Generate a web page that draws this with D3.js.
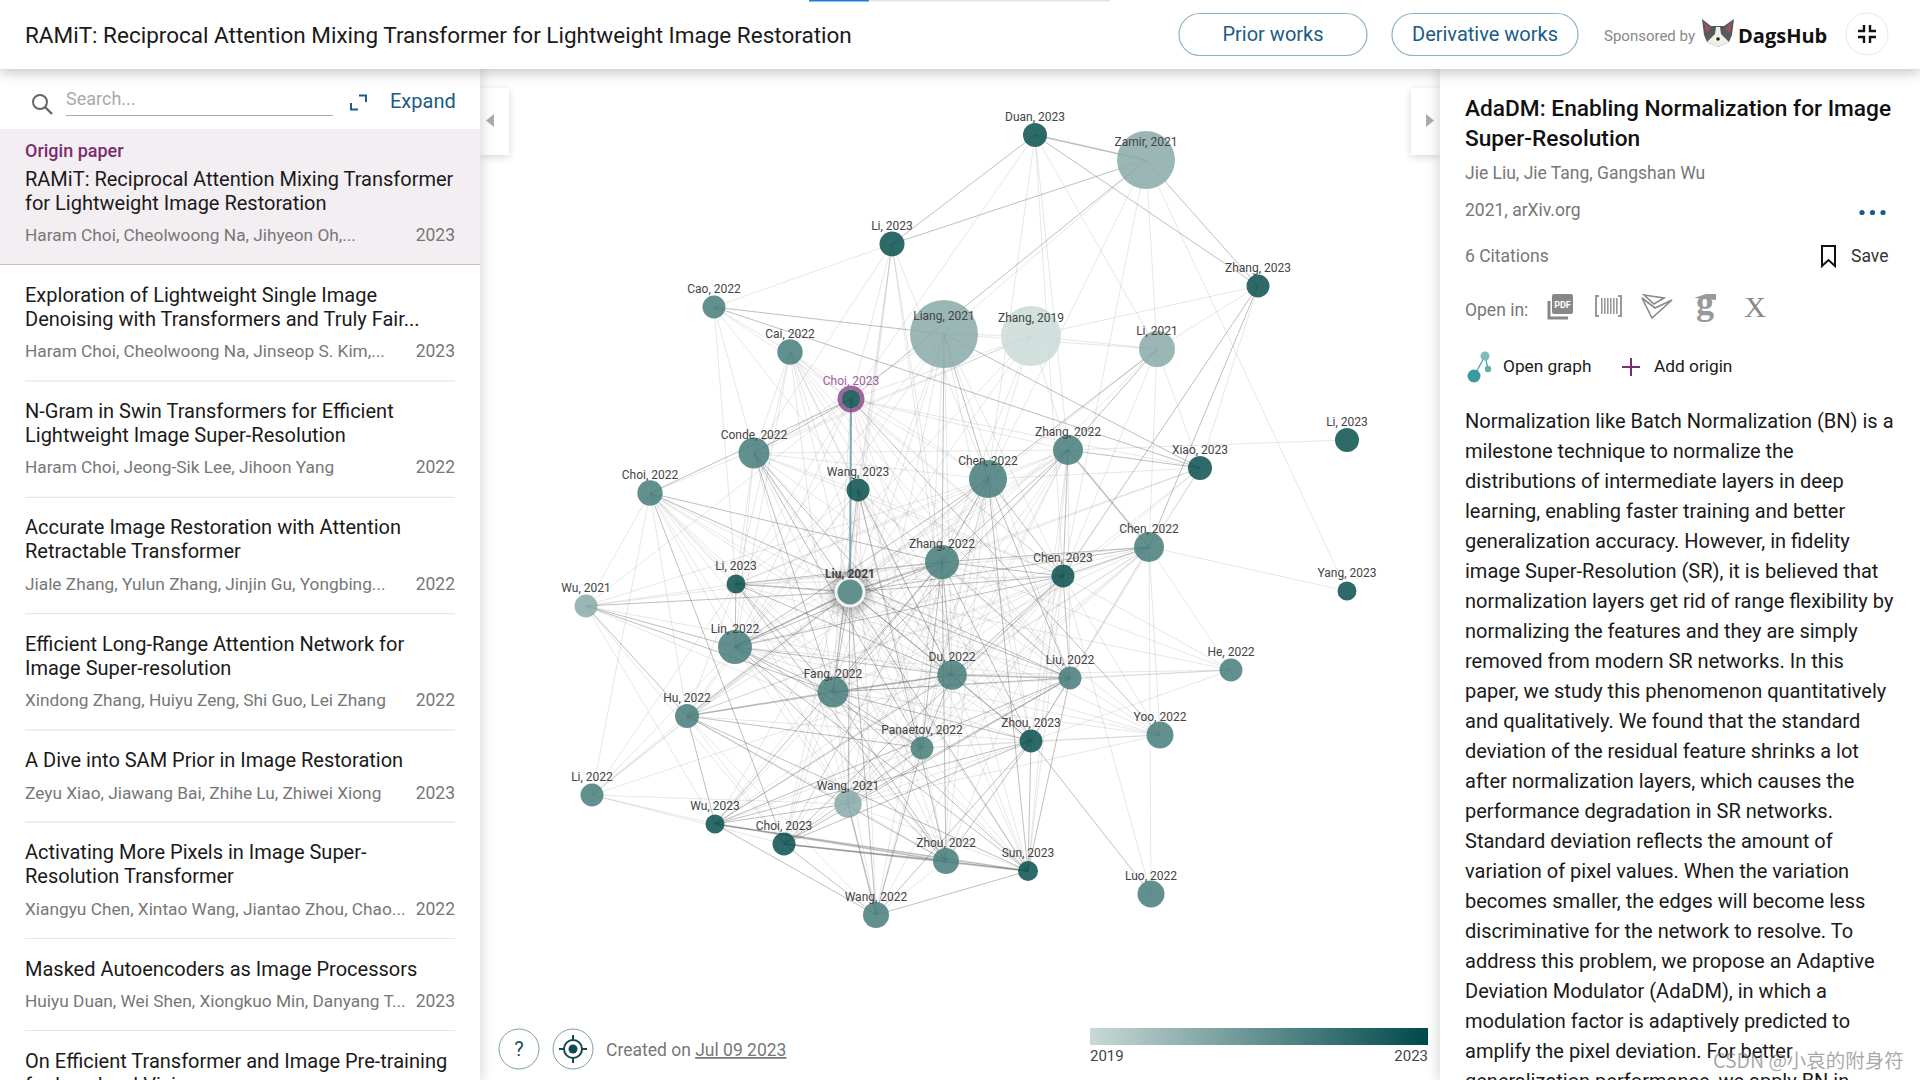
<!DOCTYPE html>
<html lang="en">
<head>
<meta charset="UTF-8">
<title>RAMiT graph</title>
<script src="https://cdn.jsdelivr.net/npm/d3@7"></script>
<style>
    html,body{margin:0;padding:0;width:1920px;height:1080px;overflow:hidden;background:#fff;font-family:Roboto,sans-serif;}
    svg{position:absolute;left:0;top:0;}
    .panel{position:absolute;background:#fff;}
    #header{left:0;top:0;width:1920px;height:69px;box-shadow:0 2px 14px rgba(0,0,0,.28);z-index:3;}
    #left{left:0;top:69px;width:480px;height:1011px;box-shadow:2px 0 12px rgba(0,0,0,.16);z-index:2;}
    #right{left:1440px;top:69px;width:480px;height:1011px;box-shadow:-2px 0 12px rgba(0,0,0,.16);z-index:2;}
    .tab{position:absolute;top:88px;width:29px;height:67px;background:#fff;box-shadow:0 2px 8px rgba(0,0,0,.16);z-index:1;}
    #ui{z-index:4;}
    #graph{z-index:0;}
</style>
</head>
<body>
<svg id="graph" width="1920" height="1080"></svg>
<div class="tab" style="left:480px"></div>
<div class="tab" style="left:1411px"></div>
<div class="panel" id="left"></div>
<div class="panel" id="right"></div>
<div class="panel" id="header"></div>
<svg id="ui" width="1920" height="1080"></svg>
<script>
// graph nodes, layout coordinates are graph units
var nodeNames = ["Duan, 2023","Zamir, 2021","Li, 2023","Zhang, 2023","Cao, 2022","Liang, 2021","Zhang, 2019","Cai, 2022","Li, 2021","Choi, 2023",
    "Li, 2023","Zhang, 2022","Conde, 2022","Xiao, 2023","Chen, 2022","Wang, 2023","Choi, 2022","Chen, 2022","Zhang, 2022","Chen, 2023",
    "Li, 2023","Yang, 2023","Liu, 2021","Wu, 2021","Lin, 2022","He, 2022","Du, 2022","Liu, 2022","Fang, 2022","Hu, 2022",
    "Yoo, 2022","Zhou, 2023","Panaetov, 2022","Li, 2022","Wang, 2021","Wu, 2023","Choi, 2023","Zhou, 2022","Sun, 2023","Luo, 2022","Wang, 2022"];
var nodeYears = [2023,2021,2023,2023,2022,2021,2019,2022,2021,2023,
    2023,2022,2022,2023,2022,2023,2022,2022,2022,2023,
    2023,2023,2022,2021,2022,2022,2022,2022,2022,2022,
    2022,2023,2022,2022,2021,2023,2023,2022,2023,2022,2022];
var nodeX = [535,646,392,758,214,444,531,290,657,351,847,568,254,700,488,358,150,649,442,563,236,847,350,86,235,731,452,570,333,187,660,531,422,92,348,215,284,446,528,651,376];
var nodeY = [35,60,144,186,207,234,236,252,249,299,340,350,353,368,379,390,393,447,462,476,484,491,492,506,547,570,575,578,592,616,635,641,648,695,704,724,744,761,771,794,815];
var nodeCites = [144,841,156,132,132,1156,900,161,324,90,144,225,240,144,361,132,161,225,289,132,90,90,196,132,289,132,216,132,240,144,182,132,132,132,188,90,132,169,100,182,169];

// citation links between nodes (index pairs), by similarity strength
var linksStrong = [[0,1],[11,17],[34,40],[35,38],[29,28],[36,38],[24,22],[28,26],[26,27],[18,22],[20,22],[35,37],[36,37]];
var linksMid = [[0,2],[0,3],[1,2],[1,3],[1,9],[3,17],[3,19],[4,5],[4,13],[5,13],[5,18],[5,14],[8,14],[8,11],[9,12],[9,16],[9,30],[16,36],[12,28],[12,26],[12,22],[12,32],
    [16,18],[16,27],[15,26],[15,28],[15,37],[14,18],[14,19],[14,24],[14,27],[14,38],[11,18],[11,19],[11,28],[11,13],[17,19],[17,18],[17,22],[18,19],[18,20],[18,24],[18,26],[18,27],[18,28],[18,31],[18,32],[18,37],[18,35],
    [19,22],[19,24],[19,26],[19,27],[19,36],[20,24],[20,26],[20,28],[20,37],[22,26],[22,27],[22,28],[22,29],[22,34],[22,31],[22,38],[22,40],
    [24,26],[24,28],[24,32],[24,37],[24,38],[26,31],[26,32],[26,35],[27,28],[27,31],[27,38],[27,36],[27,34],[27,35],[28,32],[28,37],[28,38],[28,31],[29,32],[29,35],[29,38],[29,37],
    [31,35],[31,36],[31,37],[31,38],[31,40],[32,36],[32,40],[34,35],[35,40],[36,40],[38,40],[31,39],[37,38],[23,24],[23,22],[23,29],[23,28]];
var linksFaint = [[2,4],[2,9],[2,12],[2,14],[2,18],[2,22],[2,26],[2,28],[2,15],[0,9],[0,11],[0,14],[0,19],[0,8],[1,8],[1,5],[1,19],[1,14],[3,8],[3,6],[3,13],[5,6],[5,8],[5,12],[5,24],[6,8],[6,9],[6,12],[6,14],[6,16],[6,18],[6,22],[6,24],[6,11],
    [4,9],[4,12],[4,15],[4,7],[7,9],[7,12],[7,14],[7,15],[7,18],[7,20],[7,22],[7,24],[7,26],[7,28],[7,32],[8,13],[8,17],[9,14],[9,11],[9,18],[9,26],[9,28],[9,20],[9,13],
    [10,11],[21,17],[21,1],[25,17],[25,18],[25,19],[25,22],[25,27],[30,17],[30,27],[30,19],[30,31],[30,28],[30,26],[33,24],[33,16],[33,20],[33,22],[33,26],[33,29],[33,34],[33,35],[33,14],[39,17],[39,19],
    [23,16],[23,20],[23,18],[23,14],[23,9],[23,35],[23,36],[23,32],[23,26],[16,20],[16,22],[16,24],[16,28],[16,32],[4,20],[12,14],[12,11],[12,19],[12,15],[12,20],[12,24],[13,14],[13,17],[13,18],[13,22],
    [15,18],[15,31],[15,32],[14,22],[14,26],[14,28],[14,32],[14,20],[14,11],[11,22],[11,24],[11,26],[11,35],[17,26],[17,27],[17,31],[18,29],[18,34],[18,36],[18,38],[18,40],[19,28],[19,35],[19,38],
    [20,29],[20,32],[20,34],[20,19],[20,27],[22,24],[22,32],[22,36],[22,37],[22,35],[24,27],[24,29],[24,34],[24,31],[26,28],[26,34],[26,37],[26,38],[26,29],[27,32],[28,34],[28,36],[28,40],[29,31],[29,34],[29,36],[29,40],
    [31,32],[31,34],[32,34],[32,37],[32,38],[32,35],[34,36],[34,37],[34,38],[37,40],[33,36],
    [12,34],[12,37],[12,38],[12,27],[12,31],[16,26],[16,29],[16,34],[16,37],[16,38],[16,31],[5,19],[5,20],[5,22],[5,26],[5,27],[5,28],[5,32],[5,31],[5,34],[7,19],[7,27],[7,31],
    [11,27],[11,31],[11,32],[11,34],[11,36],[11,38],[11,29],[11,20],[14,29],[14,31],[14,34],[14,35],[14,36],[14,37],[14,40],[17,24],[17,28],[17,32],[17,34],[17,35],[17,36],[17,29],[17,20],
    [13,19],[13,26],[13,27],[30,22],[30,32],[30,34],[30,24],[30,18],[15,19],[15,20],[15,24],[15,27],[15,29],[15,34],[15,36],[15,38],[15,40],[9,19],[9,24],[9,27],[9,32],
    [25,26],[25,28],[25,31],[19,29],[19,31],[19,32],[19,34],[19,37],[19,40],[8,18],[8,19],[8,22]];

var originIndex = 9, selectedIndex = 22;

// legend
var legendYears = [2019,2023];
var legendStops = ["#c9d9d7","#00494a"];

// left list
var listTitles = [
    ["Exploration of Lightweight Single Image","Denoising with Transformers and Truly Fair..."],
    ["N-Gram in Swin Transformers for Efficient","Lightweight Image Super-Resolution"],
    ["Accurate Image Restoration with Attention","Retractable Transformer"],
    ["Efficient Long-Range Attention Network for","Image Super-resolution"],
    ["A Dive into SAM Prior in Image Restoration"],
    ["Activating More Pixels in Image Super-","Resolution Transformer"],
    ["Masked Autoencoders as Image Processors"],
    ["On Efficient Transformer and Image Pre-training","for Low-level Vision"]];
var listAuthors = ["Haram Choi, Cheolwoong Na, Jinseop S. Kim,...","Haram Choi, Jeong-Sik Lee, Jihoon Yang","Jiale Zhang, Yulun Zhang, Jinjin Gu, Yongbing...",
    "Xindong Zhang, Huiyu Zeng, Shi Guo, Lei Zhang","Zeyu Xiao, Jiawang Bai, Zhihe Lu, Zhiwei Xiong","Xiangyu Chen, Xintao Wang, Jiantao Zhou, Chao...","Huiyu Duan, Wei Shen, Xiongkuo Min, Danyang T...",""];
var listYears = [2023,2022,2022,2022,2023,2022,2023,2023];

// right panel abstract
var abstractLines = ["Normalization like Batch Normalization (BN) is a","milestone technique to normalize the","distributions of intermediate layers in deep",
    "learning, enabling faster training and better","generalization accuracy. However, in fidelity","image Super-Resolution (SR), it is believed that",
    "normalization layers get rid of range flexibility by","normalizing the features and they are simply","removed from modern SR networks. In this",
    "paper, we study this phenomenon quantitatively","and qualitatively. We found that the standard","deviation of the residual feature shrinks a lot",
    "after normalization layers, which causes the","performance degradation in SR networks.","Standard deviation reflects the amount of",
    "variation of pixel values. When the variation","becomes smaller, the edges will become less","discriminative for the network to resolve. To",
    "address this problem, we propose an Adaptive","Deviation Modulator (AdaDM), in which a","modulation factor is adaptively predicted to",
    "amplify the pixel deviation. For better","generalization performance, we apply BN in"];

// ---- graph ----
var x = d3.scaleLinear().domain([0,900]).range([500,1400]);
var y = d3.scaleLinear().domain([0,900]).range([100,1000]);
var r = d3.scaleSqrt().domain([0,1156]).range([0,34]);
var yearColor = d3.scaleLinear().domain([2019,2021,2022,2023]).range(["#cadbd8","#88aaa9","#467c7a","#09504d"]);

var graph = d3.select("#graph");
var defs = graph.append("defs");
defs.append("filter").attr("id","halo").attr("x","-100%").attr("y","-100%").attr("width","300%").attr("height","300%")
    .append("feGaussianBlur").attr("stdDeviation",6);

function drawLinks(list, color, width, opacity){
    graph.append("g").selectAll("line").data(list).enter().append("line")
        .attr("x1",function(d){return x(nodeX[d[0]]);})
        .attr("y1",function(d){return y(nodeY[d[0]]);})
        .attr("x2",function(d){return x(nodeX[d[1]]);})
        .attr("y2",function(d){return y(nodeY[d[1]]);})
        .attr("stroke",color).attr("stroke-width",width).attr("stroke-opacity",opacity);
}
drawLinks(linksFaint,"#888",1,0.2);
drawLinks(linksMid,"#555",0.9,0.42);
drawLinks(linksStrong,"#555",1.5,0.38);
drawLinks([[originIndex,selectedIndex]],"#7fa6bb",2,1);

var nodes = d3.range(nodeNames.length);
graph.append("circle").attr("cx",x(nodeX[selectedIndex])).attr("cy",y(nodeY[selectedIndex])).attr("r",r(nodeCites[selectedIndex])+5)
    .attr("fill","#000").attr("opacity",.35).attr("filter","url(#halo)");
graph.append("circle").attr("cx",x(nodeX[selectedIndex])).attr("cy",y(nodeY[selectedIndex])).attr("r",r(nodeCites[selectedIndex]))
    .attr("fill","#fff");
graph.append("circle").attr("cx",x(nodeX[originIndex])).attr("cy",y(nodeY[originIndex])).attr("r",r(nodeCites[originIndex])+2)
    .attr("fill","none").attr("stroke","#8d3f87").attr("stroke-width",4).attr("stroke-opacity",.8);
graph.append("g").selectAll("circle").data(nodes).enter().append("circle")
    .attr("cx",function(i){return x(nodeX[i]);})
    .attr("cy",function(i){return y(nodeY[i]);})
    .attr("r",function(i){return r(nodeCites[i]);})
    .attr("fill",function(i){return yearColor(nodeYears[i]);})
    .attr("fill-opacity",.85)
    .attr("stroke",function(i){return i==selectedIndex?"#f2f2f2":"none";})
    .attr("stroke-width",3);
graph.append("g").selectAll("text").data(nodes).enter().append("text")
    .attr("x",function(i){return x(nodeX[i]);})
    .attr("y",function(i){return y(nodeY[i])-14.5;})
    .attr("text-anchor","middle")
    .attr("font-size",12)
    .attr("font-weight",function(i){return i==selectedIndex?700:400;})
    .attr("fill",function(i){return i==originIndex?"#a0609b":"#444";})
    .text(function(i){return nodeNames[i];});

// ---- ui text and icons ----
var ui = d3.select("#ui");
function txt(s,px,py,size,color,opts){
    opts = opts||{};
    return ui.append("text").attr("x",px).attr("y",py).attr("font-size",size).attr("fill",color)
        .attr("font-weight",opts.weight||400).attr("text-anchor",opts.anchor||"start")
        .attr("font-family",opts.family||"Roboto").text(s);
}
var blue = "#1a5c86", grey = "#777", ink = "#1a1a1a";

// header
ui.append("rect").attr("x",809).attr("y",0).attr("width",60).attr("height",1.5).attr("fill","#1c7ed6");
ui.append("rect").attr("x",869).attr("y",0).attr("width",241).attr("height",1.5).attr("fill","#e4e4e4");
txt("RAMiT: Reciprocal Attention Mixing Transformer for Lightweight Image Restoration",25,43,22.5,ink);
[[1179,188,"Prior works"],[1392,186,"Derivative works"]].forEach(function(b){
    ui.append("rect").attr("x",b[0]).attr("y",13.5).attr("width",b[1]).attr("height",42).attr("rx",21)
        .attr("fill","none").attr("stroke","#8fb2c4").attr("stroke-width",1.2);
    txt(b[2],b[0]+b[1]/2,41,20,blue,{anchor:"middle"});
});
txt("Sponsored by",1604,41,15,"#888");
// dog head
var dog = ui.append("g").attr("transform","translate(1702,19)");
dog.append("path").attr("d","M0 0 L9 7 L22 7 L32 0 L30 16 L27 23 L16 28 L5 23 L2 16 Z").attr("fill","#555a60");
dog.append("path").attr("d","M2 3 L9 9 L4 14 Z").attr("fill","#a0505c");
dog.append("path").attr("d","M30 3 L23 9 L28 14 Z").attr("fill","#a0505c");
dog.append("path").attr("d","M14 8 L18 8 L19 15 L27 23 L16 28 L5 23 L13 15 Z").attr("fill","#f1eee6");
dog.append("circle").attr("cx",16).attr("cy",20).attr("r",1.8).attr("fill","#222");
txt("DagsHub",1738,43,20,"#111",{weight:700,family:"Open Sans"});
ui.append("circle").attr("cx",1867).attr("cy",34).attr("r",21).attr("fill","#fff").attr("stroke","#e9e9e9");
ui.append("path").attr("d","M1864 25 V31 H1858 M1870 25 V31 H1876 M1864 43 V37 H1858 M1870 43 V37 H1876").attr("fill","none").attr("stroke","#111").attr("stroke-width",2.4);

// left search row
ui.append("circle").attr("cx",40).attr("cy",102).attr("r",7).attr("fill","none").attr("stroke","#666").attr("stroke-width",2);
ui.append("line").attr("x1",45).attr("y1",107).attr("x2",52).attr("y2",114).attr("stroke","#666").attr("stroke-width",2.4);
txt("Search...",66,105,18,"#aaa");
ui.append("line").attr("x1",66).attr("y1",115.5).attr("x2",333).attr("y2",115.5).attr("stroke","#aaa");
ui.append("path").attr("d","M351 103 V109.5 H358 M359 95.5 H366 V102").attr("fill","none").attr("stroke",blue).attr("stroke-width",2);
txt("Expand",390,108,20,blue);
ui.append("path").attr("d","M494 114 L494 127 L486 120.5 Z").attr("fill","#aaa");
ui.append("path").attr("d","M1426 114 L1426 127 L1434 120.5 Z").attr("fill","#aaa");

// origin paper block
ui.insert("rect",":first-child").attr("x",0).attr("y",129).attr("width",480).attr("height",135).attr("fill","#f3eef2");
ui.append("line").attr("x1",0).attr("y1",264.5).attr("x2",480).attr("y2",264.5).attr("stroke","#c4c2c4");
txt("Origin paper",25,157,18,"#7a2c6e",{weight:500});
txt("RAMiT: Reciprocal Attention Mixing Transformer",25,186,20,ink);
txt("for Lightweight Image Restoration",25,209.5,20,ink);
txt("Haram Choi, Cheolwoong Na, Jihyeon Oh,...",25,241,17.3,grey);
txt("2023",455,241,17.5,grey,{anchor:"end"});

// paper list
var itemTop = 264.5;
listTitles.forEach(function(lines,i){
    lines.forEach(function(l,j){ txt(l,25,itemTop+37+24*j,20,ink); });
    var by = itemTop+37+24*(lines.length-1)+31.5;
    txt(listAuthors[i],25,by,17.3,grey);
    if(listAuthors[i]) txt(listYears[i],455,by,17.5,grey,{anchor:"end"});
    itemTop += lines.length==2?116.4:92;
    if(i<listTitles.length-1) ui.append("line").attr("x1",25).attr("y1",itemTop).attr("x2",455).attr("y2",itemTop).attr("stroke","#e6e6e6").attr("stroke-width",1.2);
});

// right panel
txt("AdaDM: Enabling Normalization for Image",1465,116,22.7,"#111",{weight:500});
txt("Super-Resolution",1465,146,22.7,"#111",{weight:500});
txt("Jie Liu, Jie Tang, Gangshan Wu",1465,179,17.5,grey);
txt("2021, arXiv.org",1465,216,17.5,grey);
[1862,1872.5,1883].forEach(function(cx){ ui.append("circle").attr("cx",cx).attr("cy",212.5).attr("r",2.6).attr("fill",blue); });
txt("6 Citations",1465,262,17.5,grey);
ui.append("path").attr("d","M1822 246 H1835 V266 L1828.5 260 L1822 266 Z").attr("fill","none").attr("stroke","#111").attr("stroke-width",2);
txt("Save",1851,262,17.5,"#333");
txt("Open in:",1465,315.5,17.5,grey);
// open-in icons
ui.append("path").attr("d","M1549 301 V318 H1568").attr("fill","none").attr("stroke","#888").attr("stroke-width",3);
ui.append("rect").attr("x",1552).attr("y",294).attr("width",21).attr("height",20).attr("rx",2).attr("fill","#888");
txt("PDF",1562.5,308,9,"#fff",{anchor:"middle",weight:700});
ui.append("path").attr("d","M1599 296 H1596 V316 H1599 M1618 296 H1621 V316 H1618").attr("fill","none").attr("stroke","#999").attr("stroke-width",2);
[1601,1604,1607,1610,1613,1616].forEach(function(bx){ ui.append("rect").attr("x",bx).attr("y",298).attr("width",1.6).attr("height",16).attr("fill","#999"); });
ui.append("path").attr("d","M1642 298 L1652 318 L1672 300 L1655 308 Z M1644 295 L1664 298 L1654 304 Z").attr("fill","none").attr("stroke","#888").attr("stroke-width",1.6);
ui.append("path").attr("d","M1694 298 L1706 294 L1716 294 L1716 300 Z").attr("fill","#999");
txt("g",1705,314,36,"#999",{anchor:"middle",family:"Liberation Serif",weight:700});
txt("X",1755,317,30,"#888",{anchor:"middle",family:"Liberation Serif"});
// open graph icon
ui.append("path").attr("d","M1474 376 L1485 356 L1488 369").attr("fill","none").attr("stroke","#4a9ea0").attr("stroke-width",1.2);
ui.append("circle").attr("cx",1474).attr("cy",376).attr("r",6.5).attr("fill","#3a9a9c");
ui.append("circle").attr("cx",1485).attr("cy",356).attr("r",4.5).attr("fill","#7fbcbd");
ui.append("circle").attr("cx",1488).attr("cy",369).attr("r",3.2).attr("fill","#5fadaf");
txt("Open graph",1503,372,17.3,ink);
ui.append("path").attr("d","M1622 367 H1640 M1631 358 V376").attr("stroke","#7a2c6e").attr("stroke-width",2);
txt("Add origin",1654,372,17.3,ink);
abstractLines.forEach(function(l,i){ txt(l,1465,428+i*30,20,ink); });

// bottom of graph
ui.append("circle").attr("cx",519).attr("cy",1049).attr("r",20).attr("fill","#fff").attr("stroke","#7fa0a8");
txt("?",519,1056,20,"#1a4f5a",{anchor:"middle"});
ui.append("circle").attr("cx",573).attr("cy",1049).attr("r",20).attr("fill","#fff").attr("stroke","#7fa0a8");
ui.append("circle").attr("cx",573).attr("cy",1049).attr("r",9).attr("fill","none").attr("stroke","#114a50").attr("stroke-width",2);
ui.append("circle").attr("cx",573).attr("cy",1049).attr("r",4.5).attr("fill","#114a50");
ui.append("path").attr("d","M573 1035 V1041 M573 1057 V1063 M559 1049 H565 M581 1049 H587").attr("stroke","#114a50").attr("stroke-width",2);
var created = txt("Created on ",606,1056,17.5,grey);
created.append("tspan").attr("text-decoration","underline").text("Jul 09 2023");

// year gradient legend
var uidefs = ui.append("defs");
var g2 = uidefs.append("linearGradient").attr("id","yearGrad2");
g2.selectAll("stop").data(legendStops).enter().append("stop")
    .attr("offset",function(d,i){return i*100+"%";}).attr("stop-color",function(d){return d;});
var legendX = d3.scaleLinear().domain(legendYears).range([1090,1428]);
ui.append("rect").attr("x",legendX(2019)).attr("y",1028).attr("width",legendX(2023)-legendX(2019)).attr("height",17).attr("fill","url(#yearGrad2)");
txt(legendYears[0],legendX(2019),1061,15,"#444");
txt(legendYears[1],legendX(2023),1061,15,"#444",{anchor:"end"});

// watermark
txt("CSDN @小哀的附身符",1713,1068,19.5,"rgba(110,110,110,.6)",{family:"Noto Sans CJK SC"});
</script>
</body>
</html>
